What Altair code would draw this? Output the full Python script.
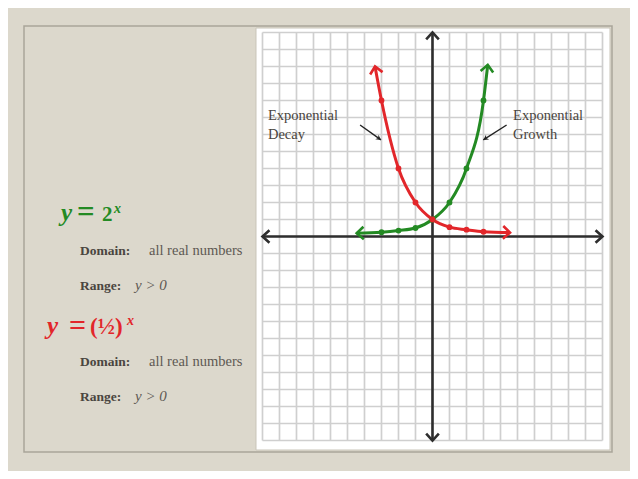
import altair as alt
import pandas as pd

# ---- data ----
green_x = [-4.46, -3, -2, -1, 0, 1, 2, 3, 3.25]
green_y = [0.19, 0.25, 0.35, 0.5, 1, 2, 4, 8, 10.1]
green_pts_x = [-3, -2, -1, 0, 1, 2, 3]
green_pts_y = [0.25, 0.35, 0.5, 1, 2, 4, 8]

red_x = [-3.38, -3, -2, -1, 0, 1, 2, 3, 4.56]
red_y = [10.0, 8, 4, 2, 1, 0.55, 0.4, 0.28, 0.23]
red_pts_x = [-3, -2, -1, 0, 1, 2, 3]
red_pts_y = [8, 4, 2, 1, 0.55, 0.4, 0.28]

grid_x = list(range(-10, 11))
grid_y = list(range(-12, 13))

ann_text = ["Exponential", "Decay", "Exponential", "Growth"]
ann_x = [-9.68, -9.68, 4.74, 4.74]
ann_y = [6.86, 5.74, 6.86, 5.74]

ann_arrow_x = [-4.26, 4.36]
ann_arrow_y = [6.56, 6.56]
ann_arrow_x2 = [-3.03, 2.99]
ann_arrow_y2 = [5.68, 5.68]
ann_arrow_angle = [35, 147]

GREEN = "#238a23"
RED = "#e2262a"
AXIS = "#2e2e2e"
GRIDC = "#cfcfcf"
TXT = "#4a4540"
TXT2 = "#5e5953"
BG = "#dcd8cc"
SERIF = "Liberation Serif"

X_DOM = [-24.97, 11.618]
Y_DOM = [-13.794, 13.441]
W, H = 622, 463

xs = alt.Scale(domain=X_DOM, nice=False, zero=False)
ys = alt.Scale(domain=Y_DOM, nice=False, zero=False)

one = pd.DataFrame({"a": [0]})

# decorations (slide frame + white panel)
frame = alt.Chart(one).mark_rect(fill=BG, stroke="#a9a599", strokeWidth=1.5).encode(
    x=alt.value(16), x2=alt.value(604), y=alt.value(18), y2=alt.value(444))
panel = alt.Chart(one).mark_rect(fill="white", stroke="#c9c5b9", strokeWidth=1).encode(
    x=alt.value(248), x2=alt.value(602), y=alt.value(20), y2=alt.value(442))

# grid
vdf = pd.DataFrame({"x": grid_x, "y": [grid_y[0]] * len(grid_x), "y2": [grid_y[-1]] * len(grid_x)})
hdf = pd.DataFrame({"y": grid_y, "x": [grid_x[0]] * len(grid_y), "x2": [grid_x[-1]] * len(grid_y)})
vgrid = alt.Chart(vdf).mark_rule(color=GRIDC, strokeWidth=1.7).encode(
    x=alt.X("x:Q", scale=xs, axis=None), y=alt.Y("y:Q", scale=ys, axis=None), y2="y2:Q")
hgrid = alt.Chart(hdf).mark_rule(color=GRIDC, strokeWidth=1.7).encode(
    y=alt.Y("y:Q", scale=ys, axis=None), x=alt.X("x:Q", scale=xs, axis=None), x2="x2:Q")

# axes
axdf = pd.DataFrame({"x": [grid_x[0], 0], "x2": [grid_x[-1], 0],
                     "y": [0, grid_y[0]], "y2": [0, grid_y[-1]]})
axes = alt.Chart(axdf).mark_rule(color=AXIS, strokeWidth=2.6).encode(
    x=alt.X("x:Q", scale=xs, axis=None), x2="x2:Q",
    y=alt.Y("y:Q", scale=ys, axis=None), y2="y2:Q")

CHEV = "M -1.1 -1 L 0 0 L -1.1 1"
heads = pd.DataFrame({
    "x": [grid_x[-1], grid_x[0], 0, 0, green_x[-1], green_x[0], red_x[0], red_x[-1]],
    "y": [0, 0, grid_y[-1], grid_y[0], green_y[-1], green_y[0], red_y[0], red_y[-1]],
    "angle": [0, 180, 270, 90, 277, 178, 259, 2],
    "c": [AXIS, AXIS, AXIS, AXIS, GREEN, GREEN, RED, RED],
})
arrowheads = alt.Chart(heads).mark_point(shape=CHEV, filled=False, size=160, strokeWidth=2.6,
                                         opacity=1, strokeJoin="miter").encode(
    x=alt.X("x:Q", scale=xs, axis=None), y=alt.Y("y:Q", scale=ys, axis=None),
    angle=alt.Angle("angle:Q", scale=None), stroke=alt.Color("c:N", scale=None))

# curves
gdf = pd.DataFrame({"x": green_x, "y": green_y})
rdf = pd.DataFrame({"x": red_x, "y": red_y})
gline = alt.Chart(gdf).mark_line(color=GREEN, strokeWidth=3, interpolate="monotone").encode(
    x=alt.X("x:Q", scale=xs, axis=None), y=alt.Y("y:Q", scale=ys, axis=None), order="x:Q")
rline = alt.Chart(rdf).mark_line(color=RED, strokeWidth=3, interpolate="monotone").encode(
    x=alt.X("x:Q", scale=xs, axis=None), y=alt.Y("y:Q", scale=ys, axis=None), order="x:Q")
gp = alt.Chart(pd.DataFrame({"x": green_pts_x, "y": green_pts_y})).mark_circle(
    color=GREEN, size=34, opacity=1).encode(
    x=alt.X("x:Q", scale=xs, axis=None), y=alt.Y("y:Q", scale=ys, axis=None))
rp = alt.Chart(pd.DataFrame({"x": red_pts_x, "y": red_pts_y})).mark_circle(
    color=RED, size=34, opacity=1).encode(
    x=alt.X("x:Q", scale=xs, axis=None), y=alt.Y("y:Q", scale=ys, axis=None))

# annotations
adf = pd.DataFrame({"t": ann_text, "x": ann_x, "y": ann_y})
atext = alt.Chart(adf).mark_text(font=SERIF, fontSize=14.5, color=TXT, align="left",
                                 baseline="alphabetic").encode(
    x=alt.X("x:Q", scale=xs, axis=None), y=alt.Y("y:Q", scale=ys, axis=None), text="t:N")
arr = pd.DataFrame({"x": ann_arrow_x, "y": ann_arrow_y, "x2": ann_arrow_x2, "y2": ann_arrow_y2,
                    "angle": ann_arrow_angle})
arules = alt.Chart(arr).mark_rule(color="#222222", strokeWidth=1.4).encode(
    x=alt.X("x:Q", scale=xs, axis=None), x2="x2:Q",
    y=alt.Y("y:Q", scale=ys, axis=None), y2="y2:Q")
aheads = alt.Chart(arr).mark_point(shape="M 0 0 L -1.6 -0.9 L -1.1 0 L -1.6 0.9 Z", filled=True,
                                   size=40, color="#222222", opacity=1).encode(
    x=alt.X("x2:Q", scale=xs, axis=None), y=alt.Y("y2:Q", scale=ys, axis=None),
    angle=alt.Angle("angle:Q", scale=None))


def txt(s, x, y, size, color, weight="normal", style="normal"):
    return alt.Chart(one).mark_text(text=s, font=SERIF, fontSize=size, color=color,
                                    fontWeight=weight, fontStyle=style, align="left",
                                    baseline="alphabetic").encode(
        x=alt.value(x), y=alt.value(y))


slide = [
    txt("y", 53, 213, 25, GREEN, "bold", "italic"),
    txt("=", 69, 214, 31, GREEN, "bold"),
    txt("2", 94, 213, 21, GREEN, "bold"),
    txt("x", 106, 205, 14, GREEN, "bold", "italic"),
    txt("Domain:", 72, 247, 13.5, TXT, "bold"),
    txt("all real numbers", 141, 247, 14.5, TXT2),
    txt("Range:", 72, 282, 13.5, TXT, "bold"),
    txt("y > 0", 127, 282, 15, TXT2, "normal", "italic"),
    txt("y", 39, 326, 25, RED, "bold", "italic"),
    txt("=", 61, 327, 30, RED, "bold"),
    txt("(½)", 82, 326, 23, RED, "bold"),
    txt("x", 119, 317, 14, RED, "bold", "italic"),
    txt("Domain:", 72, 358, 13.5, TXT, "bold"),
    txt("all real numbers", 141, 358, 14.5, TXT2),
    txt("Range:", 72, 393, 13.5, TXT, "bold"),
    txt("y > 0", 127, 393, 15, TXT2, "normal", "italic"),
]

chart = alt.layer(
    frame, panel, vgrid, hgrid, axes, gline, rline, gp, rp, arrowheads,
    atext, arules, aheads, *slide
).properties(
    width=W, height=H, background=BG, padding=0,
    autosize=alt.AutoSizeParams(type="none"),
).configure_view(stroke=None)

chart.save("out.html", embed_options={"renderer": "svg", "actions": False})
